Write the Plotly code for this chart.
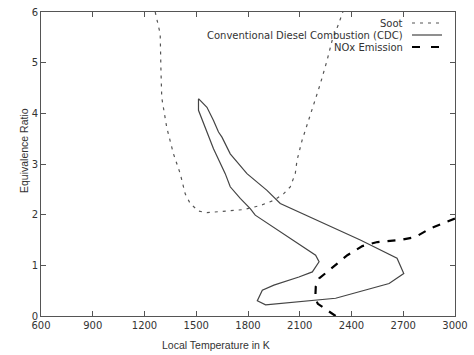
import plotly.graph_objects as go

# Soot boundary
soot_T = [1262, 1291, 1295, 1300, 1329, 1368, 1407, 1436, 1465, 1513, 1562, 1697,
          1774, 1871, 1948, 2006, 2045, 2074, 2084, 2113, 2152, 2181, 2219, 2258,
          2287, 2326, 2350]
soot_phi = [6.0, 5.57, 4.9, 4.31, 3.72, 3.2, 2.81, 2.41, 2.22, 2.07, 2.04, 2.07,
            2.10, 2.18, 2.28, 2.41, 2.55, 2.81, 3.07, 3.46, 3.86, 4.19, 4.58, 5.04,
            5.43, 5.77, 6.0]

# Conventional Diesel Combustion (closed loop)
cdc_T = [1513, 1562, 1600, 1629, 1649, 1697, 1794, 1910, 1987, 2451, 2664, 2703,
         2618, 2308, 1902, 1854, 1883, 1950, 2095, 2173, 2212, 2192, 1842, 1813,
         1755, 1697, 1668, 1600, 1513, 1513]
cdc_phi = [4.29, 4.12, 3.86, 3.63, 3.53, 3.20, 2.81, 2.48, 2.22, 1.50, 1.14, 0.84,
           0.64, 0.35, 0.22, 0.30, 0.51, 0.61, 0.77, 0.87, 1.07, 1.20, 1.99, 2.12,
           2.32, 2.55, 2.81, 3.30, 4.06, 4.29]

# NOx emission boundary
nox_T = [2308, 2260, 2205, 2190, 2193, 2212, 2260, 2320, 2376, 2463, 2550, 2685,
         2771, 2858, 3005]
nox_phi = [0.0, 0.11, 0.24, 0.35, 0.58, 0.74, 0.87, 1.03, 1.20, 1.38, 1.46, 1.50,
           1.56, 1.73, 1.93]

x_ticks = [600, 900, 1200, 1500, 1800, 2100, 2400, 2700, 3000]
y_ticks = [0, 1, 2, 3, 4, 5, 6]

legend_names = ["Soot", "Conventional Diesel Combustion (CDC)", "NOx Emission"]
x_title = "Local Temperature in K"
y_title = "Equivalence Ratio"

FONT = "DejaVu Sans"
TFONT = "Liberation Sans"
TXT = "#333333"
soot_style = dict(color="#555555", width=1.2, dash="3px,5px")
cdc_style = dict(color="#444444", width=1.2)
nox_style = dict(color="#000000", width=2.2, dash="8px,8px")
nox_leg_style = dict(color="#000000", width=2.2, dash="8px,11px")

W, H = 474, 355
L, R, T, B = 41, 19, 12, 39

fig = go.Figure()
fig.add_trace(go.Scatter(x=soot_T, y=soot_phi, mode="lines", line=soot_style,
                         name=legend_names[0], showlegend=False, hoverinfo="skip"))
fig.add_trace(go.Scatter(x=cdc_T, y=cdc_phi, mode="lines", line=cdc_style,
                         name=legend_names[1], showlegend=False, hoverinfo="skip"))
fig.add_trace(go.Scatter(x=nox_T, y=nox_phi, mode="lines", line=nox_style,
                         name=legend_names[2], showlegend=False, hoverinfo="skip"))

# manual gnuplot-style legend (text right-aligned, sample on right)
ph = H - T - B
pw = W - L - R
leg_px_y = [23, 35, 47]
styles = [soot_style, cdc_style, nox_leg_style]
for name, py, st in zip(legend_names, leg_px_y, styles):
    yy = (H - B - py) / ph
    fig.add_annotation(xref="paper", yref="paper", x=(405 - L) / pw, y=yy, text=name,
                       showarrow=False, xanchor="right", yanchor="middle",
                       font=dict(family=FONT, size=10, color=TXT))
    fig.add_shape(type="line", xref="paper", yref="paper", x0=(412 - L) / pw,
                  x1=(442 - L) / pw, y0=yy, y1=yy, line=st)

# axis titles
fig.add_annotation(xref="paper", yref="paper", x=(216 - L) / pw, y=(H - B - 345) / ph,
                   text=x_title, showarrow=False, xanchor="center", yanchor="middle",
                   font=dict(family=TFONT, size=10.5, color=TXT))
fig.add_annotation(xref="paper", yref="paper", x=(24 - L) / pw, y=(H - B - 151) / ph,
                   text=y_title, showarrow=False, xanchor="center", yanchor="middle",
                   textangle=-90, font=dict(family=TFONT, size=10.5, color=TXT))

axis_common = dict(showline=True, linecolor="#555555", linewidth=1, mirror="allticks",
                   ticks="inside", ticklen=5, tickcolor="#555555", showgrid=False,
                   zeroline=False, automargin=False,
                   tickfont=dict(family=FONT, size=10, color=TXT))

fig.update_layout(
    width=W, height=H,
    margin=dict(l=L, r=R, t=T, b=B),
    plot_bgcolor="white", paper_bgcolor="white",
    hovermode=False,
    xaxis=dict(range=[600, 3000], tickvals=x_ticks, ticktext=[str(v) for v in x_ticks],
               ticklabelstandoff=0, **axis_common),
    yaxis=dict(range=[0, 6], tickvals=y_ticks, **axis_common),
)

fig.write_html("out.html", config={"displayModeBar": False},
               post_script="document.body.style.margin='0';")
